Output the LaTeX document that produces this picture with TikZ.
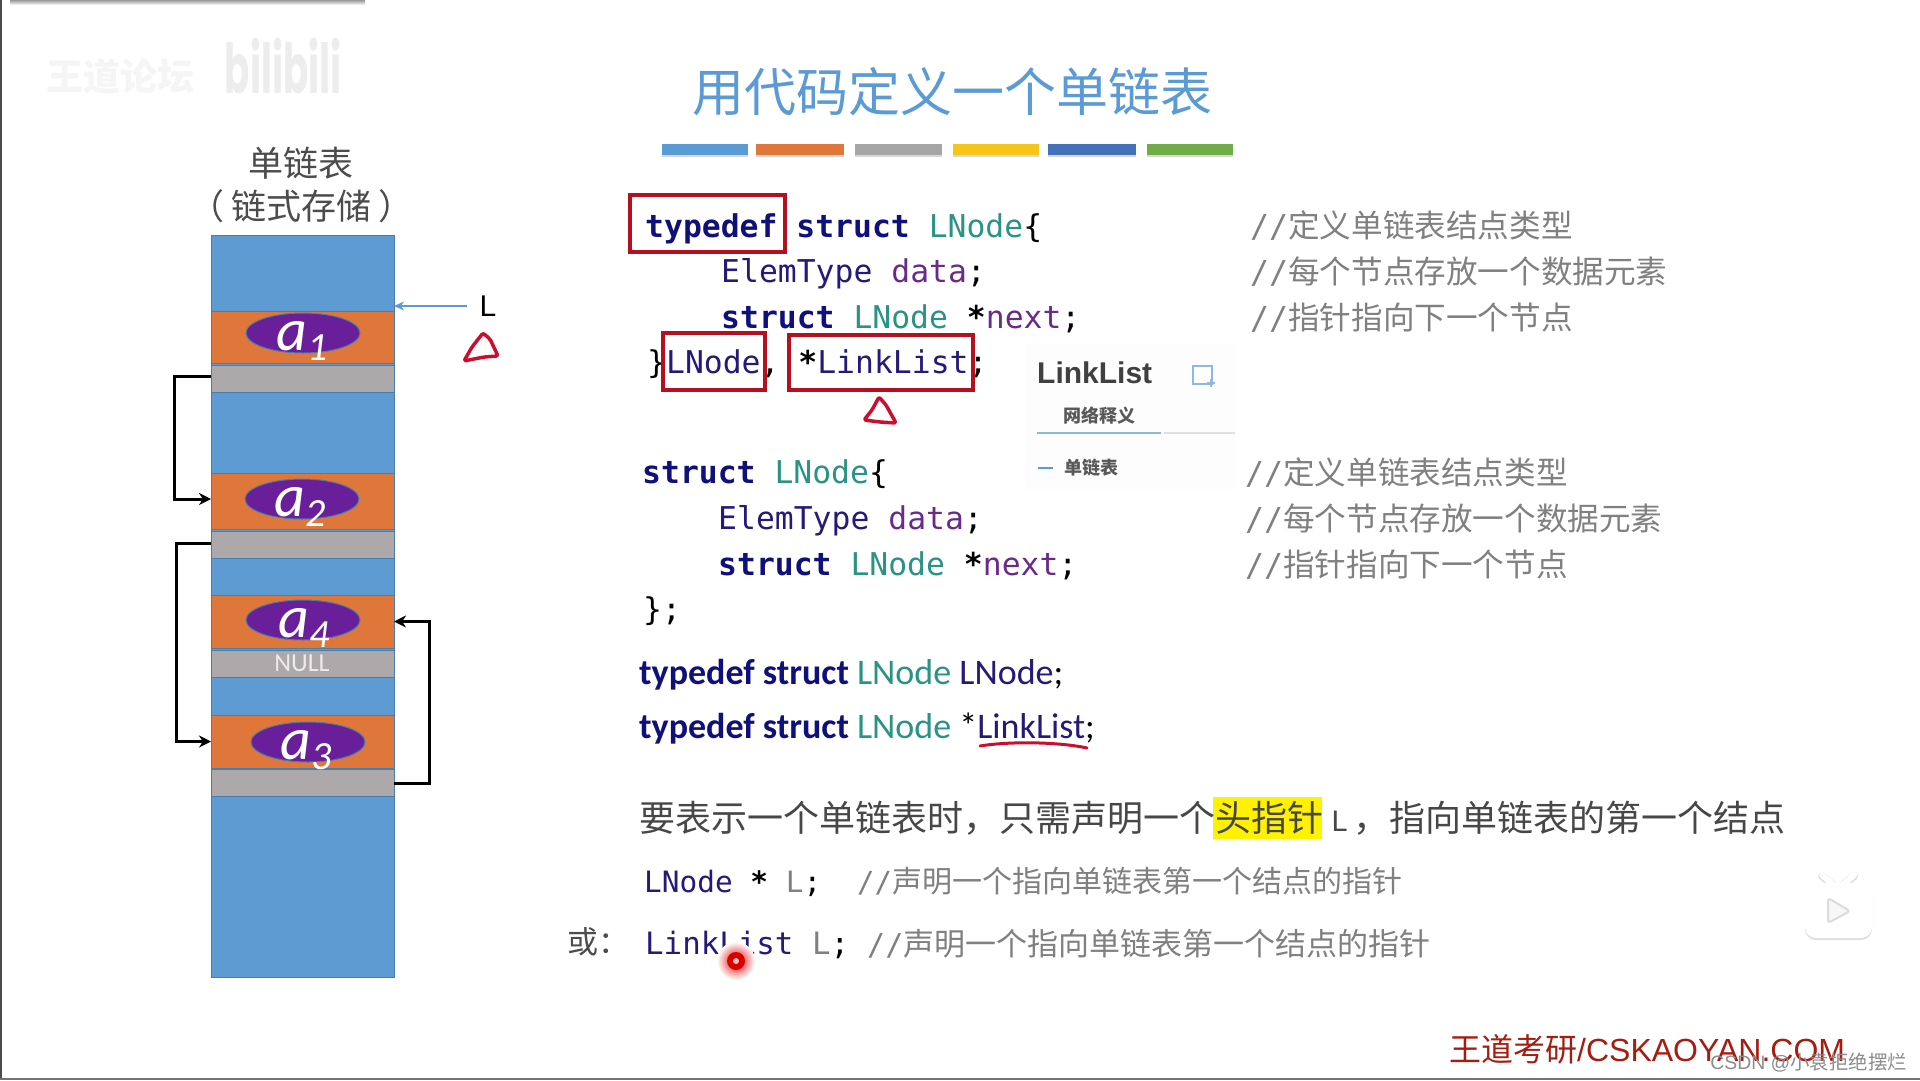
\documentclass[tikz,border=0pt]{standalone}
\usepackage{fontspec}
\usepackage{tikz}
\usetikzlibrary{shapes.geometric,arrows,arrows.meta,shadows}
\newfontfamily\cjk{Noto Sans CJK SC}
\newfontfamily\codefont{DejaVu Sans Mono}
\newfontfamily\carlito{Carlito}
\newfontfamily\arialfont{Liberation Sans}
\newfontfamily\popfont{Poppins}
\definecolor{stackblue}{HTML}{5E9BD2}
\definecolor{stackline}{HTML}{4A7EA8}
\definecolor{stackorange}{HTML}{E0773A}
\definecolor{stackgray}{HTML}{ADA9AA}
\definecolor{stackpurple}{HTML}{6A1F9A}
\definecolor{titleblue}{HTML}{5B9BD5}
\definecolor{baryellow}{HTML}{F5C518}
\definecolor{bardarkblue}{HTML}{4472B8}
\definecolor{bargreen}{HTML}{70AD47}
\definecolor{markred}{HTML}{B5101F}
\definecolor{inkred}{HTML}{C8102E}
\definecolor{footred}{HTML}{A51C10}
\definecolor{keyword}{HTML}{10107A}
\definecolor{typeteal}{HTML}{2A9384}
\definecolor{varnavy}{HTML}{241A78}
\definecolor{fieldpurple}{HTML}{6A2A8A}
\definecolor{commentgray}{HTML}{808080}
\definecolor{popback}{HTML}{FDFDFE}
\newcommand{\kw}[1]{{\bfseries\color{keyword}#1}}
\newcommand{\ty}[1]{\textcolor{typeteal}{#1}}
\newcommand{\vr}[1]{\textcolor{varnavy}{#1}}
\newcommand{\fd}[1]{\textcolor{fieldpurple}{#1}}
\tikzstyle{arrow} = [line width=3pt,-{Stealth[length=12pt,width=12pt]}]
\tikzstyle{stackblock} = [draw=stackline,line width=1pt,minimum width=183pt,inner sep=0pt,outer sep=0pt]
\tikzstyle{orangeblock} = [stackblock,fill=stackorange]
\tikzstyle{grayblock} = [stackblock,fill=stackgray,minimum height=27pt]
\tikzstyle{elemoval} = [ellipse,draw=stackline,fill=stackpurple,line width=1pt,minimum width=114pt,minimum height=40pt,inner sep=0pt]
\tikzstyle{elemlabel} = [anchor=base,inner sep=0pt,text=white,font=\carlito\itshape\fontsize{60}{60}\selectfont]
\tikzstyle{colorbar} = [minimum height=11pt,inner sep=0pt,drop shadow={shadow xshift=0pt,shadow yshift=-2pt,opacity=0.3}]
\tikzstyle{code} = [anchor=base west,inner sep=0pt,font=\codefont\fontsize{31.4}{36}\selectfont]
\tikzstyle{smallcode} = [anchor=base west,inner sep=0pt,font=\codefont\fontsize{29.4}{34}\selectfont]
\tikzstyle{calcode} = [anchor=base west,inner sep=0pt,font=\carlito\fontsize{36}{40}\selectfont]
\tikzstyle{comment} = [anchor=base west,inner sep=0pt,text=commentgray,font=\cjk\fontsize{31.6}{36}\selectfont]
\tikzstyle{smallcomment} = [anchor=base west,inner sep=0pt,text=commentgray,font=\cjk\fontsize{30}{36}\selectfont]
\tikzstyle{sentence} = [anchor=base west,inner sep=0pt,text=black!72,font=\cjk\fontsize{36}{40}\selectfont]
\tikzstyle{redbox} = [draw=markred,line width=4pt,inner sep=0pt]
\tikzstyle{redmark} = [draw=inkred,line width=3.5pt,line join=round,rounded corners=2pt]
\begin{document}
\begin{tikzpicture}[x=1pt,y=-1pt]
            \useasboundingbox (0,0) rectangle (1920,1080);
            \fill[white] (0,0) rectangle (1920,1080);
            \shade[top color=black!40,bottom color=white] (10,0) rectangle (365,5);
            \fill[black!70] (0,0) rectangle (1.5,1080);
            \fill[black!55] (0,1078) rectangle (1920,1080);

            \node[inner sep=0pt,text=black!4,font=\cjk\bfseries\fontsize{37}{37}\selectfont] (wmtext) at (120,76) {王道论坛};
            \node[inner sep=0pt,text=black!7,font=\popfont\bfseries\fontsize{60}{60}\selectfont] (wmlogo) at (283,66) {\scalebox{0.62}[1.15]{bilibili}};

            \node[inner sep=0pt,text=titleblue,font=\cjk\fontsize{52}{56}\selectfont] (title) at (952,92) {用代码定义一个单链表};
            \node[colorbar,fill=titleblue,minimum width=86pt] (barone) at (705,149.5) {};
            \node[colorbar,fill=stackorange,minimum width=88pt] (bartwo) at (800,149.5) {};
            \node[colorbar,fill=black!35,minimum width=87pt] (barthree) at (898.5,149.5) {};
            \node[colorbar,fill=baryellow,minimum width=86pt] (barfour) at (996,149.5) {};
            \node[colorbar,fill=bardarkblue,minimum width=88pt] (barfive) at (1092,149.5) {};
            \node[colorbar,fill=bargreen,minimum width=86pt] (barsix) at (1190,149.5) {};

            \node[inner sep=0pt,text=black!70,font=\cjk\fontsize{35}{40}\selectfont] (stackhead) at (301,163) {单链表};
            \node[inner sep=0pt,text=black!70,font=\cjk\fontsize{35}{40}\selectfont] (stacksub) at (301,206) {（\hspace{7pt}链式存储\hspace{7pt}）};

            \node[stackblock,fill=stackblue,minimum height=742pt] (stack) at (302.5,606) {};
            \node[orangeblock,minimum height=52pt] (nodea) at (302.5,337) {};
            \node[grayblock] (ptra) at (302.5,378.5) {};
            \node[orangeblock,minimum height=56pt] (nodeb) at (302.5,501) {};
            \node[grayblock] (ptrb) at (302.5,545) {};
            \node[orangeblock,minimum height=53pt] (noded) at (302.5,621.5) {};
            \node[grayblock] (ptrd) at (302.5,663.5) {};
            \node[orangeblock,minimum height=53pt] (nodec) at (302.5,741.5) {};
            \node[grayblock] (ptrc) at (302.5,783) {};

            \node[elemoval] (ovala) at (303,333) {};
            \node[elemoval] (ovalb) at (302,499) {};
            \node[elemoval] (ovald) at (303,620) {};
            \node[elemoval] (ovalc) at (308,742) {};
            \node[elemlabel] (labela) at (302,350) {a\raisebox{-10pt}{\fontsize{40}{40}\selectfont 1}};
            \node[elemlabel] (labelb) at (300,516) {a\raisebox{-10pt}{\fontsize{40}{40}\selectfont 2}};
            \node[elemlabel] (labeld) at (304,637) {a\raisebox{-10pt}{\fontsize{40}{40}\selectfont 4}};
            \node[elemlabel] (labelc) at (306,759) {a\raisebox{-10pt}{\fontsize{40}{40}\selectfont 3}};
            \node[inner sep=0pt,text=white!92!black,font=\carlito\fontsize{26}{26}\selectfont] (nulltext) at (302,663) {NULL};

            \draw[arrow] ([yshift=2.5pt]ptra.west) -- ++(-37,0) |- ([yshift=2pt]nodeb.west);
            \draw[arrow] ([yshift=2pt]ptrb.west) -- ++(-35,0) |- (nodec.west);
            \draw[arrow] (ptrc.east) -- ++(35,0) |- (noded.east);

            \node[inner sep=0pt,font=\arialfont\fontsize{30}{30}\selectfont] (headl) at (488,306) {L};
            \coordinate (headstart) at (467,306);
            \draw[draw=titleblue,line width=1.5pt,-{Stealth[length=10pt,width=9pt]}] (headstart) -- (headstart -| stack.east);
            \draw[redmark] (483,333) -- (490,339) -- (498,356) -- (484,357) -- (464,361) -- (472,347) -- cycle;

            \node[draw=none,fill=popback,minimum width=211pt,minimum height=147pt,inner sep=0pt] (popup) at (1130.5,416.5) {};
            \node[anchor=west,inner sep=0pt,text=black!75,font=\arialfont\bfseries\fontsize{30}{30}\selectfont] (poptitle) at (1037,373) {LinkList};
            \node[draw=titleblue!70,line width=2pt,minimum width=19pt,minimum height=18pt,inner sep=0pt] (popicon) at (1202,375) {};
            \draw[draw=titleblue!70,line width=2.5pt] (1207,383) -- (1215,383) (1211,379) -- (1211,387);
            \node[anchor=west,inner sep=0pt,text=black!65,font=\cjk\bfseries\fontsize{18}{18}\selectfont] (poptab) at (1063,416) {网络释义};
            \draw[draw=titleblue!70,line width=2.5pt] (1037,433) -- (1161,433);
            \draw[draw=black!12,line width=2.5pt] (1164,433) -- (1235,433);
            \node[anchor=west,inner sep=0pt,text=black!65,font=\cjk\bfseries\fontsize{18}{18}\selectfont] (popword) at (1064,468) {单链表};
            \draw[draw=titleblue,line width=2pt] (1038,468) -- (1053,468);

            \node[code] (defa) at (645,237) {\kw{typedef struct} \ty{LNode}\{};
            \node[code] (defb) at (721,282) {\vr{ElemType} \fd{data};};
            \node[code] (defc) at (721,328) {\kw{struct} \ty{LNode} {\bfseries *}\fd{next};};
            \node[code] (defd) at (647,373) {\}\vr{LNode}, {\bfseries *}\vr{LinkList};};
            \node[comment] (cmta) at (1250,237) {{\codefont //}定义单链表结点类型};
            \node[comment] (cmtb) at (1250,283) {{\codefont //}每个节点存放一个数据元素};
            \node[comment] (cmtc) at (1250,329) {{\codefont //}指针指向下一个节点};
            \node[redbox,minimum width=155pt,minimum height=57pt] (boxtypedef) at (707.5,223) {};
            \node[redbox,minimum width=102pt,minimum height=57pt] (boxlnode) at (714,361) {};
            \node[redbox,minimum width=184pt,minimum height=55pt] (boxlinklist) at (881,362.5) {};
            \draw[redmark] (879,397) -- (886,405) -- (896,423) -- (880,422) -- (864,420) -- (872,410) -- cycle;

            \node[code] (defe) at (642,483) {\kw{struct} \ty{LNode}\{};
            \node[code] (deff) at (718,529) {\vr{ElemType} \fd{data};};
            \node[code] (defg) at (718,575) {\kw{struct} \ty{LNode} {\bfseries *}\fd{next};};
            \node[code] (defh) at (643,620) {\};};
            \node[comment] (cmte) at (1245,484) {{\codefont //}定义单链表结点类型};
            \node[comment] (cmtf) at (1245,530) {{\codefont //}每个节点存放一个数据元素};
            \node[comment] (cmtg) at (1245,576) {{\codefont //}指针指向下一个节点};

            \node[calcode] (aliasa) at (639,684) {\kw{typedef struct} \ty{LNode} \vr{LNode};};
            \node[calcode] (aliasb) at (639,738) {\kw{typedef struct} \ty{LNode} *\vr{LinkList};};
            \draw[draw=inkred,line width=3pt,line cap=round] (980,746) .. controls (1010,741) and (1060,742) .. (1087,748);

            \fill[yellow] (1213,797) rectangle (1322,839);
            \node[sentence] (texta) at (639,831) {要表示一个单链表时，只需声明一个};
            \node[sentence] (textb) at (1215,831) {头指针};
            \node[anchor=base west,inner sep=0pt,text=black!72,font=\codefont\fontsize{28}{28}\selectfont] (textl) at (1331,831) {L};
            \node[sentence] (textc) at (1353,831) {，指向单链表的第一个结点};

            \node[smallcode] (decla) at (644,892) {\vr{LNode} {\bfseries *} \textcolor{black!50}{L};};
            \node[smallcomment] (cmth) at (857,892) {{\codefont\fontsize{29}{34}\selectfont //}声明一个指向单链表第一个结点的指针};
            \node[anchor=base west,inner sep=0pt,text=black!70,font=\cjk\fontsize{31}{36}\selectfont] (ortext) at (567,953) {或：};
            \node[smallcode,font=\codefont\fontsize{30.8}{34}\selectfont] (declb) at (645,954) {\vr{LinkList} \textcolor{black!50}{L};};
            \node[smallcomment,font=\cjk\fontsize{31}{36}\selectfont] (cmti) at (867,955) {{\codefont\fontsize{30}{34}\selectfont //}声明一个指向单链表第一个结点的指针};
            \shade[inner color=red!90!black,outer color=white] (736,961) circle (19);
            \fill[red!85!black] (736,961) circle (9);
            \fill[red!25] (736,961) circle (3);

            \node[anchor=base west,inner sep=0pt,text=footred,font=\cjk\fontsize{32}{36}\selectfont] (foota) at (1449,1061) {王道考研{\arialfont /CSKAOYAN.COM}};
            \node[anchor=base east,inner sep=0pt,text=black!45,font=\arialfont\fontsize{19.4}{24}\selectfont] (wmcsdn) at (1907,1069) {CSDN @{\cjk 小袁拒绝摆烂}};

            \draw[draw=black!12,line width=8pt,line cap=round] (1822,876) -- (1834,886);
            \draw[draw=black!12,line width=8pt,line cap=round] (1854,876) -- (1842,886);
            \draw[draw=white,line width=6pt,line cap=round] (1822,875) -- (1836,887);
            \draw[draw=white,line width=6pt,line cap=round] (1854,875) -- (1840,887);
            \node[fill=white,rounded corners=11pt,minimum width=67pt,minimum height=55pt,inner sep=0pt,drop shadow={shadow xshift=0pt,shadow yshift=-2pt,opacity=0.25}] (playicon) at (1838.5,910.5) {};
            \draw[draw=black!14,fill=black!3,line width=2pt,rounded corners=3pt] (1828,898) -- (1850,911) -- (1828,923) -- cycle;
        \end{tikzpicture}
\end{document}
